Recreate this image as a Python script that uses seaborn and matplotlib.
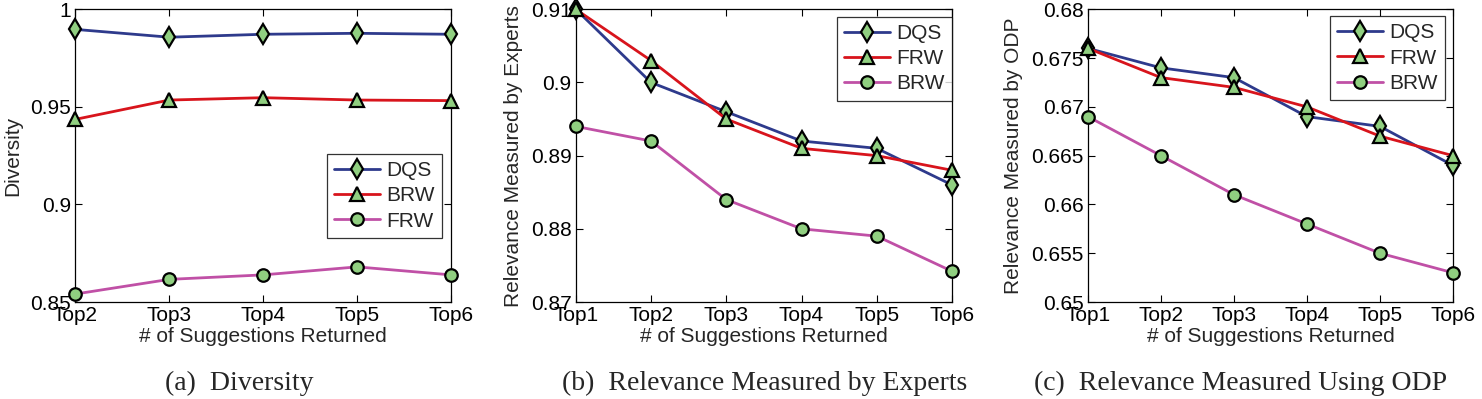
import numpy as np
import pandas as pd
import matplotlib
matplotlib.use("Agg")
import matplotlib.pyplot as plt
import seaborn as sns
from matplotlib.ticker import FuncFormatter

# ---- data ----
cats_a = ["Top2", "Top3", "Top4", "Top5", "Top6"]
cats_bc = ["Top1", "Top2", "Top3", "Top4", "Top5", "Top6"]

labels_a = ["DQS", "BRW", "FRW"]
a_dqs = [0.9897, 0.9857, 0.9872, 0.9877, 0.9872]
a_red = [0.9436, 0.9535, 0.9547, 0.9535, 0.9532]
a_mag = [0.8541, 0.8616, 0.8639, 0.8680, 0.8639]

labels_bc = ["DQS", "FRW", "BRW"]
b_dqs = [0.910, 0.900, 0.896, 0.892, 0.891, 0.886]
b_red = [0.910, 0.903, 0.895, 0.891, 0.890, 0.888]
b_mag = [0.894, 0.892, 0.884, 0.880, 0.879, 0.8742]

c_dqs = [0.676, 0.674, 0.673, 0.669, 0.668, 0.664]
c_red = [0.676, 0.673, 0.672, 0.670, 0.667, 0.665]
c_mag = [0.669, 0.665, 0.661, 0.658, 0.655, 0.653]

yticks_a = [0.85, 0.9, 0.95, 1.0]
yticks_b = [0.87, 0.88, 0.89, 0.90, 0.91]
yticks_c = [0.65, 0.655, 0.66, 0.665, 0.67, 0.675, 0.68]

ylabels = ["Diversity", "Relevance Measured by Experts", "Relevance Measured by ODP"]
xlabel = "# of Suggestions Returned"
captions = ["(a)  Diversity", "(b)  Relevance Measured by Experts", "(c)  Relevance Measured Using ODP"]

# ---- style ----
sns.set_theme(style="ticks")
plt.rcParams["font.family"] = ["Liberation Sans", "DejaVu Sans"]

C_BLUE = "#2e3a8c"
C_RED = "#d8141c"
C_MAG = "#c050a6"
FACE = "#90cf80"
FS = 15

fig = plt.figure(figsize=(14.82, 3.99), dpi=100)
positions = [
    [0.0509, 0.2431, 0.2534, 0.7336],
    [0.3885, 0.2431, 0.2539, 0.7336],
    [0.7341, 0.2431, 0.2463, 0.7336],
]

panels = [
    (cats_a, labels_a, [a_dqs, a_red, a_mag], yticks_a, (0.976, 0.506)),
    (cats_bc, labels_bc, [b_dqs, b_red, b_mag], yticks_b, (1.0, 0.975)),
    (cats_bc, labels_bc, [c_dqs, c_red, c_mag], yticks_c, (0.978, 0.977)),
]
colors = [C_BLUE, C_RED, C_MAG]
markers = ["d", "^", "o"]
msizes = [10.5, 9.5, 9]
cap_x = [239 / 1482, 765 / 1482, 1241 / 1482]

fmt = FuncFormatter(lambda v, p: ("%g" % round(v, 4)))

for i, (cats, labs, series, yt, lpos) in enumerate(panels):
    ax = fig.add_axes(positions[i])
    xs = np.arange(len(cats))
    for s, lab, col, mk, ms in zip(series, labs, colors, markers, msizes):
        df = pd.DataFrame({"x": xs, "y": s})
        sns.lineplot(data=df, x="x", y="y", ax=ax, color=col, linewidth=2.0,
                     marker=mk, markersize=ms, markerfacecolor=FACE,
                     markeredgecolor="black", markeredgewidth=1.6, label=lab,
                     clip_on=False, zorder=3)
    ax.set_xlim(xs[0], xs[-1])
    ax.set_ylim(yt[0], yt[-1])
    ax.set_xticks(xs)
    ax.set_xticklabels(cats)
    ax.set_yticks(yt)
    ax.yaxis.set_major_formatter(fmt)
    ax.tick_params(direction="in", length=5, width=0.8, top=True, right=True,
                   labelsize=FS, pad=3, colors="black")
    for sp in ax.spines.values():
        sp.set_visible(True)
        sp.set_linewidth(0.9)
        sp.set_color("black")
    ax.set_xlabel(xlabel, fontsize=FS, labelpad=1)
    ax.set_ylabel(ylabels[i], fontsize=FS, labelpad=6)
    ax.set_facecolor("white")
    leg = ax.legend(loc="upper right", bbox_to_anchor=lpos, fontsize=FS,
                    frameon=True, fancybox=False, edgecolor="black",
                    handlelength=2.2, handletextpad=0.3, borderpad=0.35,
                    labelspacing=0.3, borderaxespad=0)
    leg.get_frame().set_linewidth(0.9)
    leg.set_zorder(5)
    fig.text(cap_x[i], 1 - 383 / 399, captions[i], ha="center", va="center",
             fontsize=20, family=["Liberation Serif", "DejaVu Serif"])

fig.savefig("out.png", dpi=100, facecolor="white")
